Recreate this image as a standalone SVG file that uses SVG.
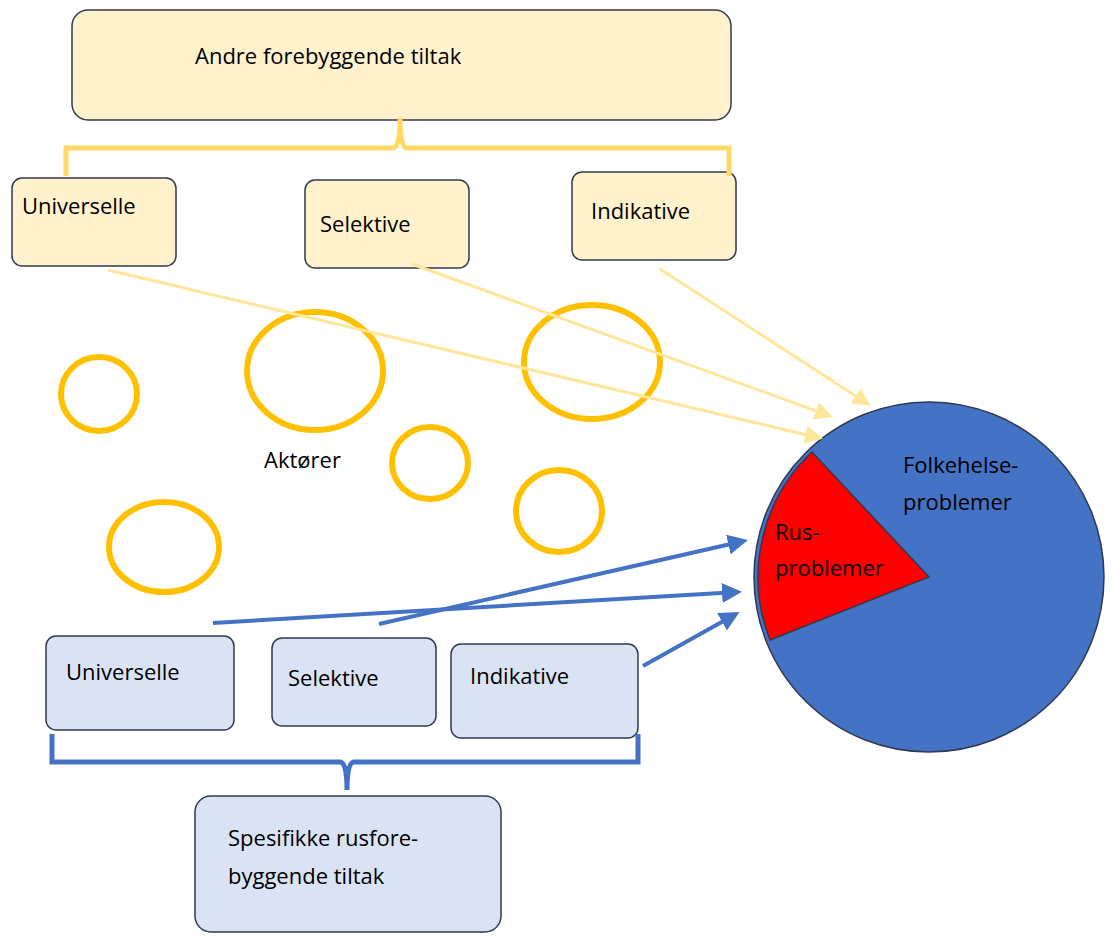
<svg xmlns="http://www.w3.org/2000/svg" width="1112" height="945" viewBox="0 0 1112 945">
<style>
text{font-family:"Open Sans","Liberation Sans",sans-serif;font-size:22px;fill:#000}
.y{fill:#fff2cc;stroke:#2f3a4f;stroke-width:1.5}
.b{fill:#dae3f3;stroke:#2f3a4f;stroke-width:1.5}
.c{fill:none;stroke:#ffc000;stroke-width:6}
.ya{stroke:#ffe699;stroke-width:3;fill:none}
.ba{stroke:#4472c4;stroke-width:4;fill:none}
</style>
<defs>
<marker id="my" markerWidth="6" markerHeight="6" refX="5" refY="3" orient="auto" markerUnits="strokeWidth"><path d="M0,0L6,3L0,6z" fill="#ffe699"/></marker>
<marker id="mb" markerWidth="5" markerHeight="5" refX="4" refY="2.5" orient="auto" markerUnits="strokeWidth"><path d="M0,0L5,2.5L0,5z" fill="#4472c4"/></marker>
</defs>
<rect width="1112" height="945" fill="#fff"/>
<g id="andre"><rect class="y" x="72" y="10" width="659" height="110" rx="16"/><text x="195" y="64">Andre forebyggende tiltak</text></g>
<g id="uni1"><rect class="y" x="12" y="178" width="164" height="88" rx="10"/><text x="22" y="214">Universelle</text></g>
<g id="sel1"><rect class="y" x="305" y="180" width="164" height="88" rx="10"/><text x="320" y="232">Selektive</text></g>
<g id="ind1"><rect class="y" x="572" y="172" width="164" height="88" rx="10"/><text x="591" y="219">Indikative</text></g>
<g id="aktorer">
<ellipse class="c" cx="99" cy="394" rx="38" ry="37"/>
<ellipse class="c" cx="315" cy="371" rx="68" ry="59"/>
<ellipse class="c" cx="592" cy="362" rx="68" ry="57"/>
<ellipse class="c" cx="430" cy="463" rx="38" ry="36"/>
<ellipse class="c" cx="559" cy="511" rx="43" ry="41"/>
<ellipse class="c" cx="164" cy="547" rx="55" ry="45"/>
<text x="264" y="468">Aktører</text></g>
<g id="pie">
<circle cx="929" cy="577" r="175" fill="#4472c4" stroke="#2f3a4f" stroke-width="1.5"/>
<path d="M929,577L812,452A172,172 0 0 0 770,640Z" fill="#ff0000" stroke="#2f3a4f" stroke-width="1.5"/>
<text x="903" y="473">Folkehelse-</text><text x="903" y="510">problemer</text>
<text x="775" y="540">Rus-</text><text x="775" y="576">problemer</text></g>
<g id="uni2"><rect class="b" x="46" y="636" width="188" height="94" rx="10"/><text x="66" y="680">Universelle</text></g>
<g id="sel2"><rect class="b" x="272" y="638" width="164" height="88" rx="10"/><text x="288" y="686">Selektive</text></g>
<g id="ind2"><rect class="b" x="451" y="644" width="187" height="94" rx="10"/><text x="470" y="684">Indikative</text></g>
<g id="spes"><rect class="b" x="195" y="796" width="306" height="136" rx="16"/><text x="228" y="846">Spesifikke rusfore-</text><text x="228" y="884">byggende tiltak</text></g>
<g id="connectors">
<path d="M66,176V148H393Q400,148 400,118Q400,148 407,148H729V176" fill="none" stroke="#ffd966" stroke-width="5"/>
<path d="M52,734V762H340Q347,762 347,790Q347,762 354,762H638V734" fill="none" stroke="#4472c4" stroke-width="5"/>
<line class="ya" x1="108" y1="270" x2="820" y2="438" marker-end="url(#my)"/>
<line class="ya" x1="412" y1="264" x2="830" y2="416" marker-end="url(#my)"/>
<line class="ya" x1="660" y1="269" x2="868" y2="404" marker-end="url(#my)"/>
<line class="ba" x1="213" y1="623" x2="738" y2="592" marker-end="url(#mb)"/>
<line class="ba" x1="379" y1="624" x2="744" y2="541" marker-end="url(#mb)"/>
<line class="ba" x1="643" y1="666" x2="736" y2="614" marker-end="url(#mb)"/>
</g>
</svg>
